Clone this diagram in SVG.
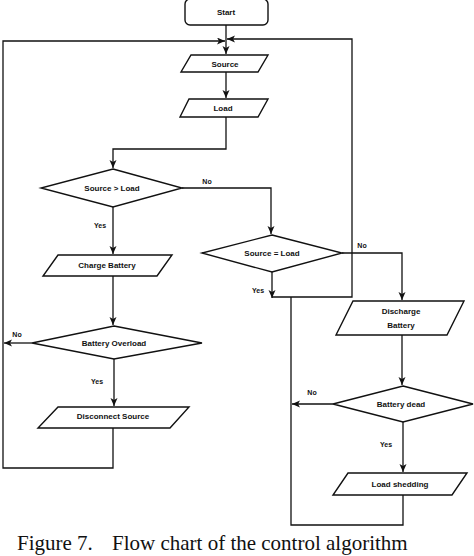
<svg xmlns="http://www.w3.org/2000/svg" width="474" height="556" viewBox="0 0 474 556">
<style>
.shape{fill:#fff;stroke:#111;stroke-width:1.4;}
.lbl{font-family:"Liberation Sans",Arial,sans-serif;font-weight:bold;font-size:8px;fill:#111;text-anchor:middle;}
.yn{font-family:"Liberation Sans",Arial,sans-serif;font-weight:bold;font-size:7px;fill:#111;text-anchor:middle;}
.con{fill:none;stroke:#111;stroke-width:1.3;}
.cap{font-family:"Liberation Serif","Times New Roman",serif;font-size:21px;fill:#111;}
</style>
<defs>
<marker id="arr" markerUnits="userSpaceOnUse" markerWidth="9" markerHeight="8" refX="8" refY="3.5" orient="auto">
<path d="M0,0 L8,3.5 L0,7 L2,3.5 z" fill="#111"/>
</marker>
</defs>
<rect width="474" height="556" fill="#fff"/>
<g id="connectors">
<path class="con" d="M226 25 V54" marker-end="url(#arr)"/>
<path class="con" d="M113 428 V468 H3 V41 H225" marker-end="url(#arr)"/>
<path class="con" d="M272 297 H352 V39 H227" marker-end="url(#arr)"/>
<path class="con" d="M226 72 V98" marker-end="url(#arr)"/>
<path class="con" d="M226 117 V149 H113 V168" marker-end="url(#arr)"/>
<path class="con" d="M182 188 H271 V234" marker-end="url(#arr)"/>
<path class="con" d="M113 207 V254" marker-end="url(#arr)"/>
<path class="con" d="M113 276 V325" marker-end="url(#arr)"/>
<path class="con" d="M32 343 H4" marker-end="url(#arr)"/>
<path class="con" d="M114 359 V406" marker-end="url(#arr)"/>
<path class="con" d="M272 272 V298" marker-end="url(#arr)"/>
<path class="con" d="M342 253 H402 V300" marker-end="url(#arr)"/>
<path class="con" d="M402 335 V385" marker-end="url(#arr)"/>
<path class="con" d="M333 404 H292" marker-end="url(#arr)"/>
<path class="con" d="M403 422 V472" marker-end="url(#arr)"/>
<path class="con" d="M403 495 V525 H291 V297"/>
</g>
<g id="start">
<rect class="shape" x="185" y="-1" width="83" height="26" rx="5"/>
<text class="lbl" x="226" y="15">Start</text>
</g>
<g id="source">
<polygon class="shape" points="191,55 268,55 258,72 181,72"/>
<text class="lbl" x="225" y="67">Source</text>
</g>
<g id="load">
<polygon class="shape" points="189,99 268,99 258,117 180,117"/>
<text class="lbl" x="223" y="111">Load</text>
</g>
<g id="dec-source-gt-load">
<polygon class="shape" points="113,169 182,188 113,207 41,188"/>
<text class="lbl" x="112" y="191">Source &gt; Load</text>
</g>
<g id="charge-battery">
<polygon class="shape" points="58,255 172,255 157,276 43,276"/>
<text class="lbl" x="107" y="268">Charge Battery</text>
</g>
<g id="dec-battery-overload">
<polygon class="shape" points="114,326 202,343 114,359 32,343"/>
<text class="lbl" x="114" y="346">Battery Overload</text>
</g>
<g id="disconnect-source">
<polygon class="shape" points="58,407 189,407 170,428 38,428"/>
<text class="lbl" x="113" y="419">Disconnect Source</text>
</g>
<g id="dec-source-eq-load">
<polygon class="shape" points="272,235 342,253 272,272 202,253"/>
<text class="lbl" x="272" y="256">Source = Load</text>
</g>
<g id="discharge-battery">
<polygon class="shape" points="353,301 464,301 447,335 336,335"/>
<text class="lbl" x="401" y="314">Discharge</text>
<text class="lbl" x="401" y="328">Battery</text>
</g>
<g id="dec-battery-dead">
<polygon class="shape" points="403,386 473,404 403,422 333,404"/>
<text class="lbl" x="401" y="407">Battery dead</text>
</g>
<g id="load-shedding">
<polygon class="shape" points="348,473 467,473 452,495 333,495"/>
<text class="lbl" x="400" y="487">Load shedding</text>
</g>
<g id="labels">
<text class="yn" x="207" y="184">No</text>
<text class="yn" x="100" y="228">Yes</text>
<text class="yn" x="362" y="248">No</text>
<text class="yn" x="258" y="293">Yes</text>
<text class="yn" x="17" y="337">No</text>
<text class="yn" x="97" y="384">Yes</text>
<text class="yn" x="312" y="395">No</text>
<text class="yn" x="386" y="447">Yes</text>
</g>
<text class="cap" x="17" y="550">Figure 7.</text>
<text class="cap" x="112" y="550">Flow chart of the control algorithm</text>
</svg>
